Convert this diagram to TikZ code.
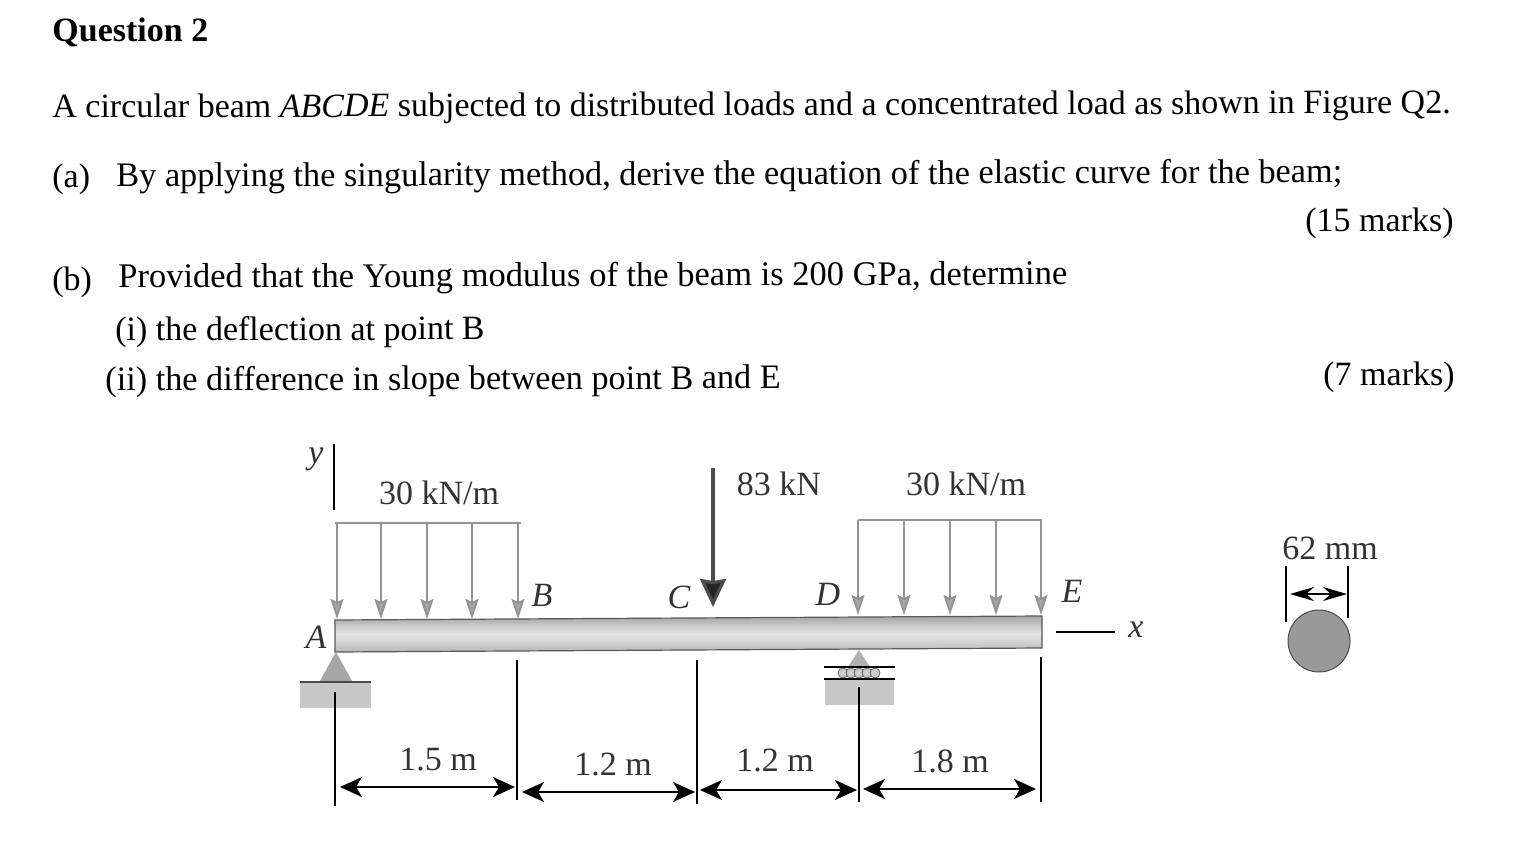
\documentclass[tikz,border=0pt]{standalone}
\usepackage{fontspec}
\setmainfont{Liberation Serif}
\usetikzlibrary{arrows.meta}
\tikzset{
	qtext/.style={anchor=base west,inner sep=0pt,font=\fontsize{17}{20}\selectfont,rotate=0.2},
	figlabel/.style={anchor=base,inner sep=0pt,font=\fontsize{17}{20}\selectfont,text=black!80},
	figitalic/.style={figlabel,font=\fontsize{17}{20}\selectfont\itshape},
	loadarrow/.style={draw=black!42,line width=1pt,-{Stealth[length=10pt,width=6.5pt,inset=1.5pt,fill=black!35]}},
	dimarrow/.style={line width=1.2pt,{Stealth[length=11pt,width=10pt,inset=3pt]}-{Stealth[length=11pt,width=10pt,inset=3pt]}},
	dimline/.style={line width=1pt},
	groundfill/.style={fill=black!22,draw=none}
}
\begin{document}
\begin{tikzpicture}[x=0.5pt,y=-0.5pt]
	\useasboundingbox (0,0) rectangle (1536,855);
	% question text
	\node[qtext,font=\fontsize{17}{20}\selectfont\bfseries] (title) at (52,42) {Question 2};
	\node[qtext] (intro) at (52,118) {A circular beam \textit{ABCDE} subjected to distributed loads and a concentrated load as shown in Figure Q2.};
	\node[qtext] (parta) at (52,188) {(a)};
	\node[qtext,font=\fontsize{17.15}{20}\selectfont] (partatext) at (116,187) {By applying the singularity method, derive the equation of the elastic curve for the beam;};
	\node[qtext] (marksa) at (1305,232) {(15 marks)};
	\node[qtext] (partb) at (52,291) {(b)};
	\node[qtext,font=\fontsize{17.25}{20}\selectfont] (partbtext) at (118,288) {Provided that the Young modulus of the beam is 200 GPa, determine};
	\node[qtext] (parti) at (115,341) {(i) the deflection at point B};
	\node[qtext,font=\fontsize{17.12}{20}\selectfont] (partii) at (105,391) {(ii) the difference in slope between point B and E};
	\node[qtext] (marksb) at (1323,386) {(7 marks)};
	% beam
	\shade[left color=black!35,right color=black!28,middle color=black!10,shading angle=0] (335,620) -- (1042,616) -- (1042,648) -- (335,652) -- cycle;
	\draw[line width=0.6pt,black!65] (335,620) -- (1042,616) -- (1042,648) -- (335,652) -- cycle;
	% distributed loads
	\draw[line width=1pt,black!42] (335,523) -- (521,523);
	\foreach \xpos in {337,381,427,472,518}
		\draw[loadarrow] (\xpos,523) -- (\xpos,619);
	\draw[line width=1pt,black!42] (858,520) -- (1042,520);
	\foreach \xpos in {858,904,950,996,1041}
		\draw[loadarrow] (\xpos,520) -- (\xpos,615);
	% concentrated load
	\draw[line width=1.6pt,black!70,-{Stealth[length=14pt,width=13pt,inset=1pt,fill=black!85]}] (713,468) -- (713,607);
	% axes
	\draw[line width=1pt] (334,444) -- (334,510);
	\draw[line width=0.9pt] (1056,632) -- (1115,632);
	% support A
	\fill[black!35] (336,652) -- (320,681) -- (352,681) -- cycle;
	\fill[groundfill] (300,682) rectangle (371,708);
	\draw[line width=1pt,black!70] (300,682) -- (371,682);
	% support D
	\fill[black!30] (859,650) -- (848,667) -- (870,667) -- cycle;
	\draw[line width=0.7pt] (824,667) -- (895,667);
	\foreach \xpos in {843,851,859,867,875}
		\draw[black!60,fill=black!20,line width=0.4pt] (\xpos,673) circle (5);
	\draw[line width=0.8pt] (824,679) -- (895,679);
	\fill[groundfill] (825,680) rectangle (894,705);
	% dimension lines
	\draw[dimline] (335,692) -- (335,806);
	\draw[dimline] (517,660) -- (517,800);
	\draw[dimline] (697,660) -- (697,804);
	\draw[dimline] (859,687) -- (859,802);
	\draw[dimline] (1041,657) -- (1041,802);
	\draw[dimarrow] (340,787) -- (515,787);
	\draw[dimarrow] (522,792) -- (695,792);
	\draw[dimarrow] (700,790) -- (857,790);
	\draw[dimarrow] (863,789) -- (1036,789);
	% cross section
	\draw[line width=1.2pt] (1286,566) -- (1286,622);
	\draw[dimline] (1348,566) -- (1348,618);
	\draw[line width=0.8pt,{Stealth[length=12pt,width=7pt]}-{Stealth[length=12pt,width=7pt]}] (1290,594) -- (1347,594);
	\draw[black!70,fill=black!40,line width=0.5pt] (1319,641) circle (31);
	% labels
	\node[figitalic] (ylabel) at (316,464) {y};
	\node[figlabel] (loadab) at (439,504) {30 kN/m};
	\node[figlabel] (loadc) at (779,495) {83 kN};
	\node[figlabel] (loadde) at (966,495) {30 kN/m};
	\node[figitalic] (pointa) at (316,648) {A};
	\node[figitalic] (pointb) at (542,606) {B};
	\node[figitalic] (pointc) at (679,608) {C};
	\node[figitalic] (pointd) at (828,605) {D};
	\node[figitalic] (pointe) at (1072,602) {E};
	\node[figitalic] (xlabel) at (1136,637) {x};
	\node[figlabel] (dimab) at (438,770) {1.5 m};
	\node[figlabel] (dimbc) at (613,775) {1.2 m};
	\node[figlabel] (dimcd) at (775,771) {1.2 m};
	\node[figlabel] (dimde) at (950,772) {1.8 m};
	\node[figlabel] (dimsec) at (1330,559) {62 mm};
\end{tikzpicture}
\end{document}
